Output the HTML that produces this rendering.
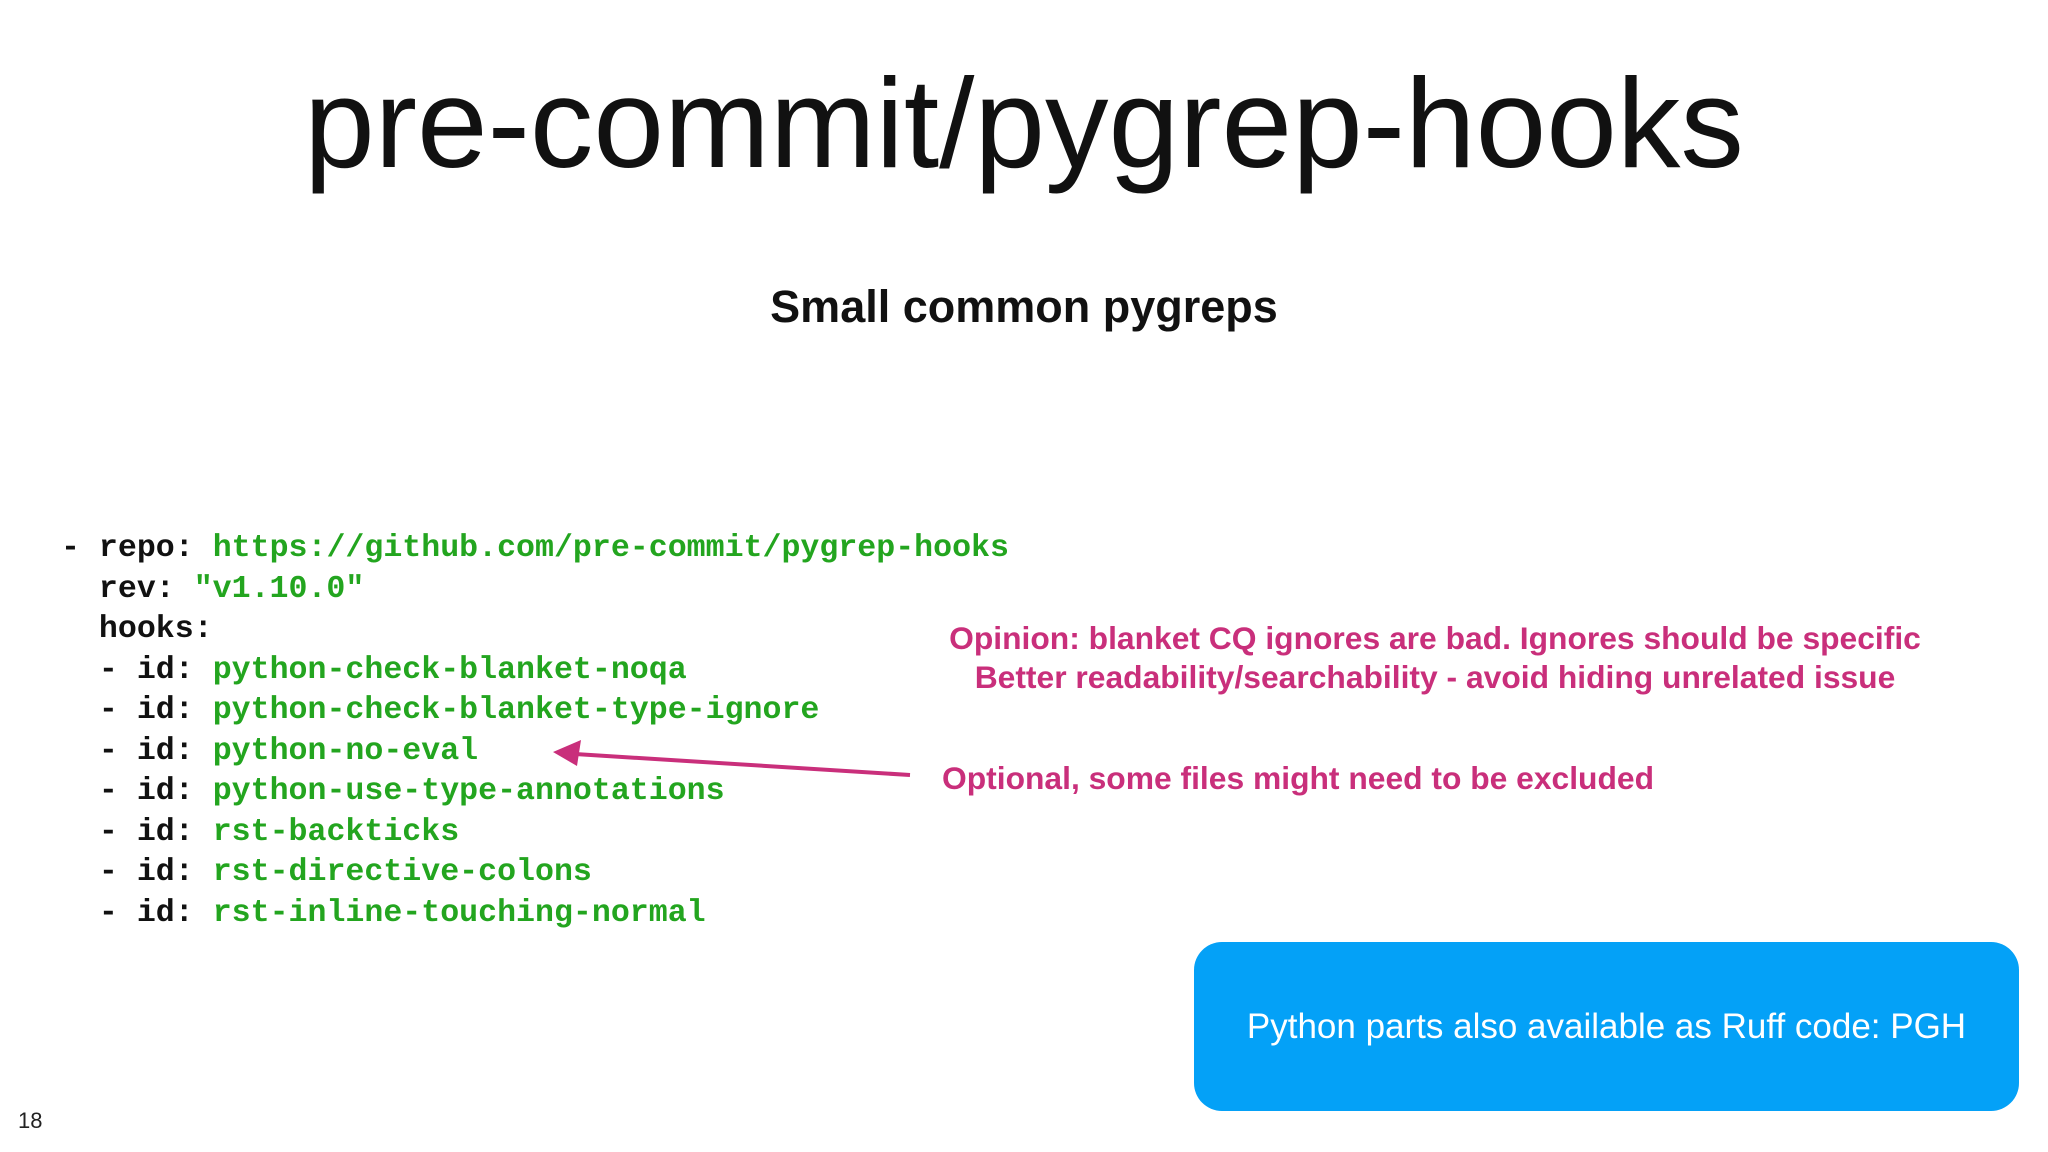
<!DOCTYPE html>
<html><head><meta charset="utf-8"><style>
body{margin:0;width:2048px;height:1152px;background:#fff;position:relative;overflow:hidden;font-family:"Liberation Sans",sans-serif}
.a{position:absolute;white-space:nowrap}
.title{left:0;width:2048px;text-align:center;top:50px;font-size:127px;color:#111}
.sub{left:0;width:2048px;text-align:center;top:281px;font-size:45px;font-weight:bold;color:#111}
.code{left:61px;top:529px;font-family:"Liberation Mono",monospace;font-weight:bold;font-size:31.6px;line-height:40.5px;color:#111;white-space:pre}
.g{color:#23a51f}
.pk{color:#c92f7b;font-weight:bold;font-size:31.8px}
.box{position:absolute;left:1194px;top:942px;width:825px;height:169px;border-radius:28px;background:#04a1f7;color:#fff;font-size:35px;display:flex;align-items:center;justify-content:center}
</style></head><body>
<div class="a title">pre-commit/pygrep-hooks</div>
<div class="a sub">Small common pygreps</div>
<div class="a code">- repo: <span class="g">https://github.com/pre-commit/pygrep-hooks</span>
  rev: <span class="g">"v1.10.0"</span>
  hooks:
  - id: <span class="g">python-check-blanket-noqa</span>
  - id: <span class="g">python-check-blanket-type-ignore</span>
  - id: <span class="g">python-no-eval</span>
  - id: <span class="g">python-use-type-annotations</span>
  - id: <span class="g">rst-backticks</span>
  - id: <span class="g">rst-directive-colons</span>
  - id: <span class="g">rst-inline-touching-normal</span></div>
<div class="a pk" style="left:885px;width:1100px;text-align:center;top:620px">Opinion: blanket CQ ignores are bad. Ignores should be specific</div>
<div class="a pk" style="left:885px;width:1100px;text-align:center;top:659px">Better readability/searchability - avoid hiding unrelated issue</div>
<div class="a pk" style="left:942px;top:760px">Optional, some files might need to be excluded</div>
<svg class="a" style="left:0;top:0" width="2048" height="1152">
<line x1="910" y1="775" x2="575" y2="754" stroke="#c92f7b" stroke-width="4"/>
<polygon points="553,752 581,740 577,766" fill="#c92f7b"/>
</svg>
<div class="box">Python parts also available as Ruff code: PGH</div>
<div class="a" style="left:18px;top:1108px;font-size:22px;color:#222">18</div>
</body></html>
